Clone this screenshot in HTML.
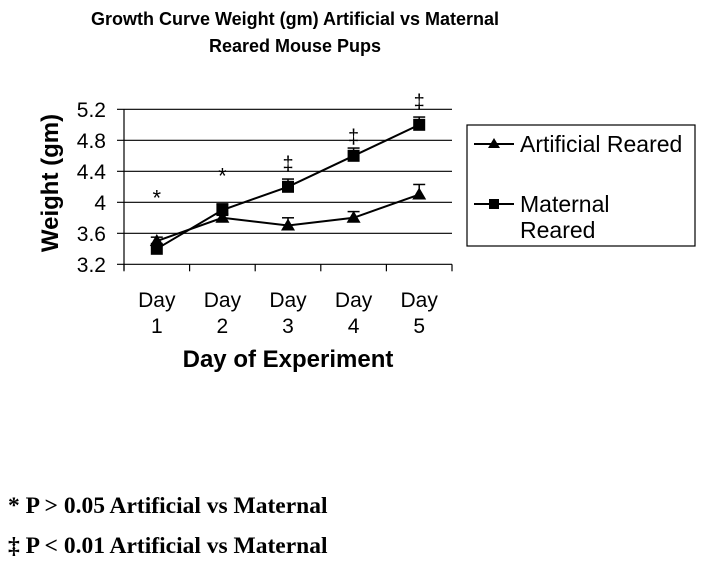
<!DOCTYPE html>
<html><head><meta charset="utf-8"><style>
body{margin:0;background:#fff;width:703px;height:583px;overflow:hidden}
svg text{font-family:"Liberation Sans",sans-serif;fill:#000}
</style></head><body>
<svg id="chart" width="703" height="583" xmlns="http://www.w3.org/2000/svg">
<text x="295" y="25" text-anchor="middle" font-size="18" font-weight="bold">Growth Curve Weight (gm) Artificial vs Maternal</text>
<text x="295" y="52" text-anchor="middle" font-size="18" font-weight="bold">Reared Mouse Pups</text>
<text transform="translate(58,183) rotate(-90)" text-anchor="middle" font-size="24" font-weight="bold">Weight (gm)</text>
<text x="288" y="367" text-anchor="middle" font-size="24" font-weight="bold">Day of Experiment</text>
<g id="grid"></g><g id="ticks"></g><g id="series"></g>
<g>
<rect x="467" y="125" width="228" height="121" fill="none" stroke="#000" stroke-width="1.2"/>
<line x1="474" y1="144" x2="514" y2="144" stroke="#000" stroke-width="2"/>
<polygon points="494,138 500,148 488,148" fill="#000"/>
<text x="520" y="152" font-size="23">Artificial Reared</text>
<line x1="474" y1="204" x2="514" y2="204" stroke="#000" stroke-width="2"/>
<rect x="489" y="199" width="10" height="10" fill="#000"/>
<text x="520" y="212" font-size="23">Maternal</text>
<text x="520" y="238" font-size="23">Reared</text>
</g>
<text x="8" y="513" font-size="23.5" font-weight="bold" style="font-family:'Liberation Serif',serif">* P &gt; 0.05 Artificial vs Maternal</text>
<text x="8" y="553" font-size="23.5" font-weight="bold" style="font-family:'Liberation Serif',serif">‡ P &lt; 0.01 Artificial vs Maternal</text>
</svg>
<script>
const categories=["1","2","3","4","5"];
const artificial=[3.5,3.8,3.7,3.8,4.1];
const artificialErr=[0.05,0.05,0.1,0.08,0.13];
const maternal=[3.4,3.9,4.2,4.6,5.0];
const maternalErr=[0.04,0.08,0.1,0.1,0.1];
const marks=["*","*","‡","‡","‡"];
const markValues=[4.05,4.33,4.5,4.85,5.3];
const yTicks=[3.2,3.6,4,4.4,4.8,5.2];
const NS="http://www.w3.org/2000/svg";
const X0=124,X1=452,Y0=264.3,Y1=109.3,YMIN=3.2,YMAX=5.2;
const bw=(X1-X0)/categories.length;
function xs(i){return X0+bw*(i+0.5);}
function ys(v){return Y0-(v-YMIN)/(YMAX-YMIN)*(Y0-Y1);}
function mk(tag,attrs,parent){const e=document.createElementNS(NS,tag);for(const k in attrs)e.setAttribute(k,attrs[k]);parent.appendChild(e);return e;}
const grid=document.getElementById('grid'),ticks=document.getElementById('ticks'),ser=document.getElementById('series');
yTicks.forEach(t=>{
 const l=mk('line',{x1:X0-7,x2:X1,y1:ys(t),y2:ys(t),stroke:'#000','stroke-width':1.2},grid);
 
 
 const tx=mk('text',{x:106,y:ys(t)+7.5,'text-anchor':'end','font-size':21},ticks);
 tx.textContent=String(t);
 
 
});
mk('line',{x1:X0,x2:X0,y1:Y1,y2:Y0+6,stroke:'#000','stroke-width':1.2},grid);
for(let i=0;i<=categories.length;i++)mk('line',{x1:X0+bw*i,x2:X0+bw*i,y1:Y0,y2:Y0+7,stroke:'#000','stroke-width':1.2},grid);
categories.forEach((c,i)=>{
 const a=mk('text',{x:xs(i),y:307,'text-anchor':'middle','font-size':21},ticks);a.textContent='Day';
 
 
 const b=mk('text',{x:xs(i),y:333,'text-anchor':'middle','font-size':21},ticks);b.textContent=c;
 
 
 const m=mk('text',{x:xs(i),y:ys(markValues[i])+7,'text-anchor':'middle','font-size':marks[i]=='*'?22:20,'font-family':'Liberation Serif'},ticks);m.textContent=marks[i];
 
 
});
function series(vals,errs,shape,name){
 const pts=vals.map((v,i)=>xs(i)+','+ys(v)).join(' ');
 const pl=mk('polyline',{points:pts,fill:'none',stroke:'#000','stroke-width':2},ser);
 
 
 vals.forEach((v,i)=>{
  const x=xs(i),y=ys(v),ye=ys(v+errs[i]);
  mk('line',{x1:x,x2:x,y1:y,y2:ye,stroke:'#000','stroke-width':1.5},ser);
  mk('line',{x1:x-6,x2:x+6,y1:ye,y2:ye,stroke:'#000','stroke-width':1.5},ser);
  let p;
  if(shape=='tri')p=mk('polygon',{points:`${x},${y-7} ${x+7},${y+5} ${x-7},${y+5}`,fill:'#000'},ser);
  else p=mk('rect',{x:x-6,y:y-6,width:12,height:12,fill:'#000'},ser);
  
  
 });
}
series(artificial,artificialErr,'tri','artificial');
series(maternal,maternalErr,'sq','maternal');
</script>
</body></html>
